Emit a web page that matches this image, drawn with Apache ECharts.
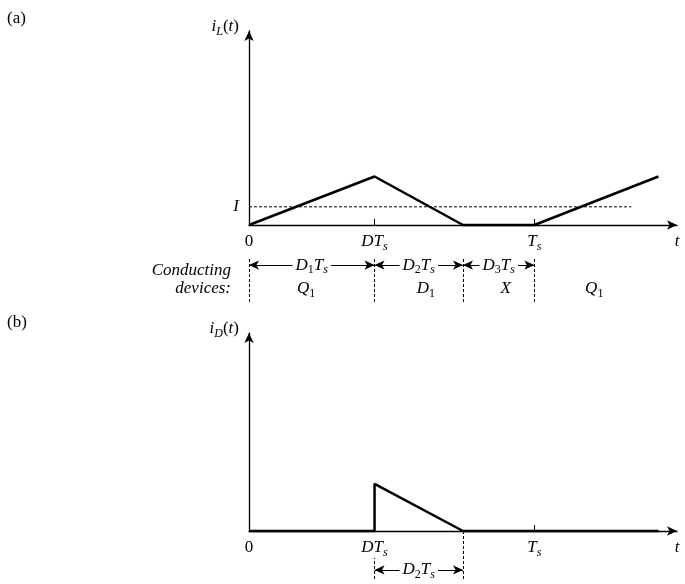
<!DOCTYPE html>
<html>
<head>
<meta charset="utf-8">
<script src="https://cdn.jsdelivr.net/npm/echarts@6/dist/echarts.min.js"></script>
<style>
html, body { margin: 0; padding: 0; background: #fff; }
#chart { width: 685px; height: 584px; }
</style>
</head>
<body>
<div id="chart"></div>
<script>
// time in units of Ts, current in units of the peak
const tL = [0, 0.44, 0.75, 1, 1.435];
const iL = [0, 1, 0, 0, 1];
const tD = [0, 0.44, 0.44, 0.75, 1.435];
const iD = [0, 0, 1, 0, 0];
const levelI = 0.375;
const levelIEnd = 1.34;

const xLabelValues = [0, 0.44, 1, 1.5];
const xLabels = ['{n|0}', '{i|DT}{si|s}', '{i|T}{si|s}', '{i|t}'];
const xTickValues = [0.44, 1];

// conducting intervals in (a)
const bounds = [0, 0.44, 0.75, 1];
const intervalLabels = ['{i|D}{sn|1}{i|T}{si|s}', '{i|D}{sn|2}{i|T}{si|s}', '{i|D}{sn|3}{i|T}{si|s}'];
const deviceT = [0.2, 0.62, 0.9, 1.21];
const deviceLabels = ['{i|Q}{sn|1}', '{i|D}{sn|1}', '{i|X}', '{i|Q}{sn|1}'];
const sideLabelValues = [0.7, 0.29];
const sideLabels = ['Conducting', 'devices:'];

// diode interval in (b)
const diodeBounds = [0.44, 0.75];
const diodeLabel = '{i|D}{sn|2}{i|T}{si|s}';

const FONT = 'Liberation Serif';
const rich = {
    n: { fontFamily: FONT, fontSize: 17, color: '#000', lineHeight: 22 },
    i: { fontFamily: FONT, fontSize: 17, fontStyle: 'italic', color: '#000', lineHeight: 22 },
    si: { fontFamily: FONT, fontSize: 12, fontStyle: 'italic', color: '#000', padding: [9, 0, 0, 0] },
    sn: { fontFamily: FONT, fontSize: 12, color: '#000', padding: [9, 0, 0, 0] }
};

const arrowRowA = 0.82;
const deviceRowA = 0.29;
const arrowRowB = 0.19;
const dashTopB = 0.44;

const axisLineStyle = { color: '#000', width: 1.3 };
const dashStyle = { color: '#000', width: 1, type: [3, 2] };

const timeAxis = (grid, ticks) => ({
    gridIndex: grid, type: 'value', min: 0, max: 1.5,
    axisLine: { show: true, onZero: false, symbol: ['none', 'arrow'], symbolSize: [7, 10], lineStyle: axisLineStyle },
    axisTick: { show: true, inside: true, length: 6, customValues: ticks, lineStyle: { color: '#000', width: 1 } },
    axisLabel: { customValues: xLabelValues, formatter: v => xLabels[xLabelValues.indexOf(v)], rich: rich, margin: 6 },
    splitLine: { show: false }
});

const currentAxis = (grid, max, name, labels) => ({
    gridIndex: grid, type: 'value', min: 0, max: max,
    axisLine: { show: true, onZero: false, symbol: ['none', 'arrow'], symbolSize: [7, 10], lineStyle: axisLineStyle },
    axisTick: { show: false },
    axisLabel: labels ? { customValues: [levelI], formatter: () => '{i|I}', rich: rich, margin: 10 } : { show: false },
    splitLine: { show: false },
    name: name, nameLocation: 'end', nameGap: 4,
    nameTextStyle: { rich: rich, align: 'right', verticalAlign: 'middle', padding: [0, 10, 0, 0] }
});

const hiddenX = grid => ({ gridIndex: grid, type: 'value', min: 0, max: 1.5, show: false });

const pairs = (xs, y) => xs.slice(0, -1).map((x, k) => [{ coord: [x, y] }, { coord: [xs[k + 1], y] }]);

const textLabel = {
    show: true, position: 'inside', formatter: p => p.data[2], rich: rich,
    color: '#000', opacity: 1, textBorderWidth: 0, textShadowBlur: 0,
    backgroundColor: '#fff', padding: [0, 3]
};

const option = {
    animation: false,
    backgroundColor: '#fff',
    title: [
        { text: '(a)', left: 2, top: 5, textStyle: { fontFamily: FONT, fontSize: 17, fontWeight: 'normal', color: '#000' } },
        { text: '(b)', left: 2, top: 309, textStyle: { fontFamily: FONT, fontSize: 17, fontWeight: 'normal', color: '#000' } }
    ],
    grid: [
        { left: 249, right: 8, top: 31, bottom: 359 },
        { left: 249, right: 8, top: 257, bottom: 282 },
        { left: 249, right: 8, top: 333, bottom: 53 },
        { left: 249, right: 8, top: 531, bottom: 5 }
    ],
    xAxis: [timeAxis(0, xTickValues), hiddenX(1), timeAxis(2, [1]), hiddenX(3)],
    yAxis: [
        currentAxis(0, 4, '{i|i}{si|L}{n|(}{i|t}{n|)}', true),
        {
            gridIndex: 1, type: 'value', min: 0, max: 1,
            axisLine: { show: false }, axisTick: { show: false }, splitLine: { show: false },
            axisLabel: {
                customValues: sideLabelValues, formatter: v => sideLabels[sideLabelValues.indexOf(v)],
                fontFamily: FONT, fontSize: 17, fontStyle: 'italic', color: '#000', margin: 18
            }
        },
        currentAxis(2, 4.2, '{i|i}{si|D}{n|(}{i|t}{n|)}', false),
        { gridIndex: 3, type: 'value', min: 0, max: 1, show: false }
    ],
    series: [
        {
            name: 'iL', type: 'line', xAxisIndex: 0, yAxisIndex: 0, z: 4, clip: false,
            data: tL.map((t, k) => [t, iL[k]]), symbol: 'none',
            lineStyle: { color: '#000', width: 2.5 }
        },
        {
            name: 'I', type: 'line', xAxisIndex: 0, yAxisIndex: 0, z: 3,
            data: [[0, levelI], [levelIEnd, levelI]], symbol: 'none',
            lineStyle: dashStyle
        },
        {
            name: 'boundsA', type: 'line', xAxisIndex: 1, yAxisIndex: 1, data: [],
            markLine: {
                silent: true, symbol: 'none', z: 2, label: { show: false },
                lineStyle: dashStyle,
                data: bounds.map(b => [{ coord: [b, 0] }, { coord: [b, 1] }])
            }
        },
        {
            name: 'arrowsA', type: 'line', xAxisIndex: 1, yAxisIndex: 1, data: [],
            markLine: {
                silent: true, symbol: ['arrow', 'arrow'], symbolSize: [7, 10], z: 2, label: { show: false },
                lineStyle: { color: '#000', width: 1.2, type: 'solid' },
                data: pairs(bounds, arrowRowA)
            }
        },
        {
            name: 'labelsA', type: 'scatter', xAxisIndex: 1, yAxisIndex: 1, z: 10,
            symbolSize: 1, itemStyle: { color: 'rgba(0,0,0,0)' },
            data: intervalLabels.map((s, k) => [(bounds[k] + bounds[k + 1]) / 2, arrowRowA, s])
                .concat(deviceLabels.map((s, k) => [deviceT[k], deviceRowA, s])),
            label: textLabel
        },
        {
            name: 'iD', type: 'line', xAxisIndex: 2, yAxisIndex: 2, z: 4, clip: false,
            data: tD.map((t, k) => [t, iD[k]]), symbol: 'none',
            lineStyle: { color: '#000', width: 2.5 }
        },
        {
            name: 'boundsB', type: 'line', xAxisIndex: 3, yAxisIndex: 3, data: [],
            markLine: {
                silent: true, symbol: 'none', z: 2, label: { show: false },
                lineStyle: dashStyle,
                data: [
                    [{ coord: [diodeBounds[0], 0] }, { coord: [diodeBounds[0], dashTopB] }],
                    [{ coord: [diodeBounds[1], 0] }, { coord: [diodeBounds[1], 1] }]
                ]
            }
        },
        {
            name: 'arrowsB', type: 'line', xAxisIndex: 3, yAxisIndex: 3, data: [],
            markLine: {
                silent: true, symbol: ['arrow', 'arrow'], symbolSize: [7, 10], z: 2, label: { show: false },
                lineStyle: { color: '#000', width: 1.2, type: 'solid' },
                data: pairs(diodeBounds, arrowRowB)
            }
        },
        {
            name: 'labelsB', type: 'scatter', xAxisIndex: 3, yAxisIndex: 3, z: 10,
            symbolSize: 1, itemStyle: { color: 'rgba(0,0,0,0)' },
            data: [[(diodeBounds[0] + diodeBounds[1]) / 2, arrowRowB, diodeLabel]],
            label: textLabel
        }
    ]
};

const myChart = echarts.init(document.getElementById('chart'));
myChart.setOption(option);
</script>
</body>
</html>
